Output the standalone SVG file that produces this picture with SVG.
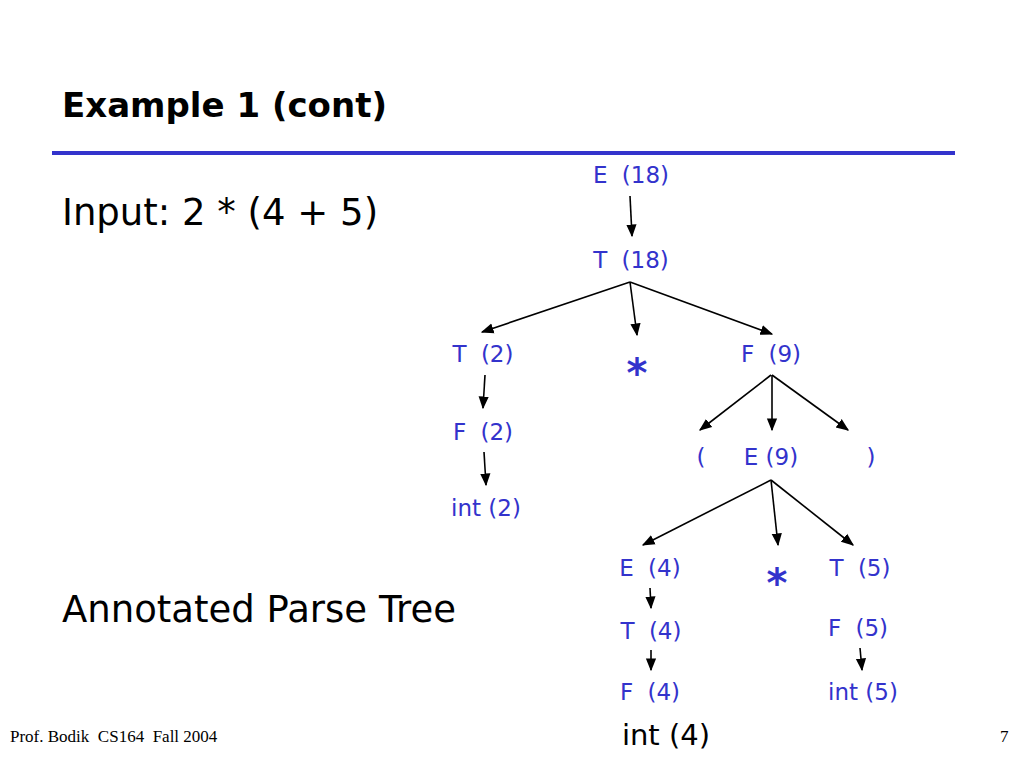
<svg xmlns="http://www.w3.org/2000/svg" width="1024" height="768" viewBox="0 0 1024 768">
<style>
.h{font-family:"DejaVu Sans","Liberation Sans",sans-serif;font-size:34px;fill:#000}
.n{font-family:"DejaVu Sans","Liberation Sans",sans-serif;font-size:23px;fill:#3333cc;text-anchor:middle;word-spacing:7px}
.n.t{word-spacing:0}
.s{font-family:"DejaVu Sans","Liberation Sans",sans-serif;font-size:40px;font-weight:bold;fill:#3333cc;text-anchor:middle}
.f{font-family:"Liberation Serif",serif;font-size:17px;fill:#000}
.c line{stroke:#000;stroke-width:1.6;marker-end:url(#a)}
</style>
<defs><marker id="a" viewBox="0 0 10 10" refX="9" refY="5" markerWidth="8" markerHeight="8" orient="auto"><path d="M0,1 L10,5 L0,9 z" fill="#000"/></marker></defs>
<rect width="1024" height="768" fill="#fff"/>
<text class="h" x="62" y="117" font-weight="bold">Example 1 (cont)</text>
<line x1="52" y1="153" x2="955" y2="153" stroke="#3333cc" stroke-width="4"/>
<text class="h" x="62" y="225" style="font-size:37px">Input: 2 * (4 + 5)</text>
<text class="h" x="62" y="622" style="font-size:37px">Annotated Parse Tree</text>
<text class="f" x="10" y="742" xml:space="preserve">Prof. Bodik  CS164  Fall 2004</text>
<text class="f" x="1000" y="742">7</text>
<g id="E18"><text class="n" x="631" y="183">E (18)</text></g>
<g id="T18"><text class="n" x="631" y="268">T (18)</text></g>
<g id="T2"><text class="n" x="483" y="362">T (2)</text></g>
<g id="star1"><text class="s" x="637" y="387">*</text></g>
<g id="F9"><text class="n" x="771" y="362">F (9)</text></g>
<g id="F2"><text class="n" x="483" y="440">F (2)</text></g>
<g id="int2"><text class="n t" x="486" y="516">int (2)</text></g>
<g id="lp"><text class="n" x="701" y="465">(</text></g>
<g id="E9"><text class="n t" x="771" y="465">E (9)</text></g>
<g id="rp"><text class="n" x="871" y="465">)</text></g>
<g id="E4"><text class="n" x="650" y="576">E (4)</text></g>
<g id="star2"><text class="s" x="777" y="597">*</text></g>
<g id="T5"><text class="n" x="860" y="576">T (5)</text></g>
<g id="T4"><text class="n" x="651" y="639">T (4)</text></g>
<g id="F5"><text class="n" x="858" y="636">F (5)</text></g>
<g id="F4"><text class="n" x="650" y="700">F (4)</text></g>
<g id="int5"><text class="n t" x="863" y="700">int (5)</text></g>
<g id="int4"><text x="666" y="745" text-anchor="middle" font-family="DejaVu Sans,Liberation Sans,sans-serif" font-size="29">int (4)</text></g>
<g class="c">
<line x1="630" y1="196" x2="632" y2="236"/>
<line x1="630" y1="282" x2="482" y2="332"/>
<line x1="630" y1="282" x2="637" y2="335"/>
<line x1="630" y1="282" x2="772" y2="334"/>
<line x1="485" y1="375" x2="483" y2="408"/>
<line x1="484" y1="452" x2="486" y2="485"/>
<line x1="771" y1="375" x2="700" y2="430"/>
<line x1="772" y1="375" x2="772" y2="430"/>
<line x1="772" y1="375" x2="848" y2="430"/>
<line x1="771" y1="480" x2="643" y2="545"/>
<line x1="771" y1="480" x2="778" y2="545"/>
<line x1="771" y1="480" x2="853" y2="545"/>
<line x1="650" y1="588" x2="651" y2="608"/>
<line x1="651" y1="650" x2="651" y2="670"/>
<line x1="860" y1="648" x2="862" y2="670"/>
</g>
</svg>
